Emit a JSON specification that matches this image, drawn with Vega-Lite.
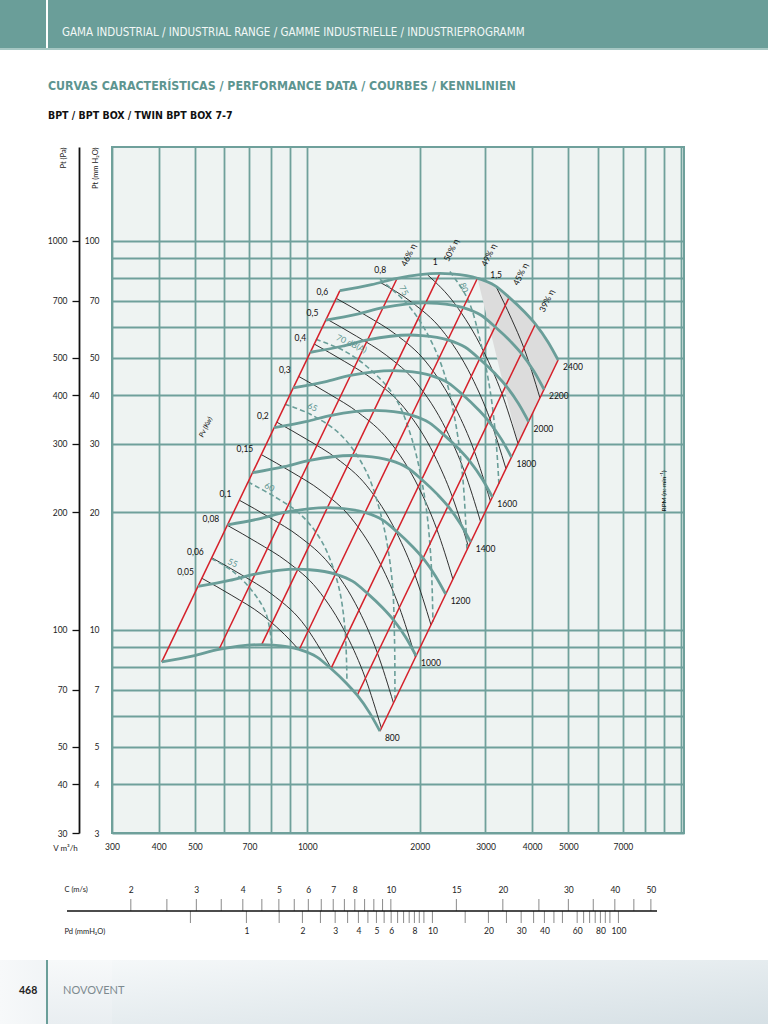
{
  "$schema": "https://vega.github.io/schema/vega-lite/v6.json",
  "background": "#ffffff",
  "padding": 0,
  "columns": 3,
  "spacing": 0,
  "bounds": "flush",
  "config": {
    "view": {"stroke": null},
    "font": "Lato",
    "axis": {"labelFont": "Lato", "titleFont": "Lato"},
    "text": {"font": "Lato"}
  },
  "datasets": {
    "rpm": [
      {"rpm":800,"q":407.6,"p":8.26},{"rpm":800,"q":495.3,"p":8.56},{"rpm":800,"q":580.1,"p":8.89},{"rpm":800,"q":754.8,"p":9.15},{"rpm":800,"q":810.8,"p":9.12},{"rpm":800,"q":951.6,"p":8.89},{"rpm":800,"q":1059.4,"p":8.51},{"rpm":800,"q":1157,"p":7.94},{"rpm":800,"q":1274.6,"p":7.27},{"rpm":800,"q":1360.6,"p":6.78},{"rpm":800,"q":1471.5,"p":6.09},{"rpm":800,"q":1564.8,"p":5.48},
      {"rpm":1000,"q":509.5,"p":12.91},{"rpm":1000,"q":619.1,"p":13.38},{"rpm":1000,"q":725.1,"p":13.89},{"rpm":1000,"q":943.5,"p":14.3},{"rpm":1000,"q":1013.5,"p":14.25},{"rpm":1000,"q":1189.5,"p":13.89},{"rpm":1000,"q":1324.3,"p":13.3},{"rpm":1000,"q":1446.3,"p":12.41},{"rpm":1000,"q":1593.3,"p":11.36},{"rpm":1000,"q":1700.8,"p":10.59},{"rpm":1000,"q":1839.4,"p":9.52},{"rpm":1000,"q":1956,"p":8.56},
      {"rpm":1200,"q":611.4,"p":18.59},{"rpm":1200,"q":743,"p":19.26},{"rpm":1200,"q":870.2,"p":20.0},{"rpm":1200,"q":1132.2,"p":20.59},{"rpm":1200,"q":1216.2,"p":20.52},{"rpm":1200,"q":1427.4,"p":20.0},{"rpm":1200,"q":1589.1,"p":19.15},{"rpm":1200,"q":1735.5,"p":17.87},{"rpm":1200,"q":1911.9,"p":16.36},{"rpm":1200,"q":2040.9,"p":15.26},{"rpm":1200,"q":2207.3,"p":13.7},{"rpm":1200,"q":2347.2,"p":12.33},
      {"rpm":1400,"q":713.3,"p":25.3},{"rpm":1400,"q":866.8,"p":26.22},{"rpm":1400,"q":1015.2,"p":27.23},{"rpm":1400,"q":1320.9,"p":28.02},{"rpm":1400,"q":1418.9,"p":27.93},{"rpm":1400,"q":1665.3,"p":27.23},{"rpm":1400,"q":1854,"p":26.06},{"rpm":1400,"q":2024.8,"p":24.32},{"rpm":1400,"q":2230.6,"p":22.26},{"rpm":1400,"q":2381,"p":20.76},{"rpm":1400,"q":2575.1,"p":18.65},{"rpm":1400,"q":2738.4,"p":16.78},
      {"rpm":1600,"q":815.2,"p":33.04},{"rpm":1600,"q":990.6,"p":34.24},{"rpm":1600,"q":1160.2,"p":35.56},{"rpm":1600,"q":1509.6,"p":36.6},{"rpm":1600,"q":1621.6,"p":36.48},{"rpm":1600,"q":1903.2,"p":35.56},{"rpm":1600,"q":2118.8,"p":34.04},{"rpm":1600,"q":2314,"p":31.76},{"rpm":1600,"q":2549.2,"p":29.08},{"rpm":1600,"q":2721.2,"p":27.12},{"rpm":1600,"q":2943,"p":24.36},{"rpm":1600,"q":3129.6,"p":21.92},
      {"rpm":1800,"q":917.1,"p":41.82},{"rpm":1800,"q":1114.4,"p":43.34},{"rpm":1800,"q":1305.2,"p":45.01},{"rpm":1800,"q":1698.3,"p":46.32},{"rpm":1800,"q":1824.3,"p":46.17},{"rpm":1800,"q":2141.1,"p":45.01},{"rpm":1800,"q":2383.7,"p":43.08},{"rpm":1800,"q":2603.3,"p":40.2},{"rpm":1800,"q":2867.9,"p":36.8},{"rpm":1800,"q":3061.4,"p":34.32},{"rpm":1800,"q":3310.9,"p":30.83},{"rpm":1800,"q":3520.8,"p":27.74},
      {"rpm":2000,"q":1019,"p":51.63},{"rpm":2000,"q":1238.3,"p":53.5},{"rpm":2000,"q":1450.3,"p":55.56},{"rpm":2000,"q":1887,"p":57.19},{"rpm":2000,"q":2027,"p":57.0},{"rpm":2000,"q":2379,"p":55.56},{"rpm":2000,"q":2648.5,"p":53.19},{"rpm":2000,"q":2892.5,"p":49.63},{"rpm":2000,"q":3186.5,"p":45.44},{"rpm":2000,"q":3401.5,"p":42.38},{"rpm":2000,"q":3678.8,"p":38.06},{"rpm":2000,"q":3912,"p":34.25},
      {"rpm":2200,"q":1120.9,"p":62.47},{"rpm":2200,"q":1362.1,"p":64.74},{"rpm":2200,"q":1595.3,"p":67.23},{"rpm":2200,"q":2075.7,"p":69.2},{"rpm":2200,"q":2229.7,"p":68.97},{"rpm":2200,"q":2616.9,"p":67.23},{"rpm":2200,"q":2913.4,"p":64.36},{"rpm":2200,"q":3181.8,"p":60.05},{"rpm":2200,"q":3505.2,"p":54.98},{"rpm":2200,"q":3741.7,"p":51.27},{"rpm":2200,"q":4046.6,"p":46.06},{"rpm":2200,"q":4303.2,"p":41.44},
      {"rpm":2400,"q":1222.8,"p":74.34},{"rpm":2400,"q":1485.9,"p":77.04},{"rpm":2400,"q":1740.3,"p":80.01},{"rpm":2400,"q":2264.4,"p":82.35},{"rpm":2400,"q":2432.4,"p":82.08},{"rpm":2400,"q":2854.8,"p":80.01},{"rpm":2400,"q":3178.2,"p":76.59},{"rpm":2400,"q":3471,"p":71.46},{"rpm":2400,"q":3823.8,"p":65.43},{"rpm":2400,"q":4081.8,"p":61.02},{"rpm":2400,"q":4414.5,"p":54.81},{"rpm":2400,"q":4694.4,"p":49.32}
    ],
    "red": [
      {"id":1,"q":407.6,"p":8.26},{"id":1,"q":1222.8,"p":74.34},
      {"id":2,"q":580.1,"p":8.89},{"id":2,"q":1740.3,"p":80.01},
      {"id":3,"q":754.8,"p":9.15},{"id":3,"q":2264.4,"p":82.35},
      {"id":4,"q":951.6,"p":8.89},{"id":4,"q":2854.8,"p":80.01},
      {"id":5,"q":1157,"p":7.94},{"id":5,"q":3471,"p":71.46},
      {"id":6,"q":1360.6,"p":6.78},{"id":6,"q":4081.8,"p":61.02},
      {"id":7,"q":1564.8,"p":5.48},{"id":7,"q":4694.4,"p":49.32}
    ],
    "kw": [
      {"kw":0.05,"q":522.1,"p":13.55},{"kw":0.05,"q":628.1,"p":12.24},{"kw":0.05,"q":755.3,"p":10.93},{"kw":0.05,"q":908.9,"p":9.294},{"kw":0.05,"q":947,"p":8.897},
      {"kw":0.06,"q":554.9,"p":15.3},{"kw":0.06,"q":667.5,"p":13.82},{"kw":0.06,"q":802.8,"p":12.34},{"kw":0.06,"q":965.8,"p":10.5},{"kw":0.06,"q":1165,"p":7.889},
      {"kw":0.08,"q":610.6,"p":18.54},{"kw":0.08,"q":734.5,"p":16.74},{"kw":0.08,"q":883.5,"p":14.95},{"kw":0.08,"q":1063,"p":12.72},{"kw":0.08,"q":1279,"p":9.614},{"kw":0.08,"q":1429,"p":7.523},{"kw":0.08,"q":1579,"p":5.582},
      {"kw":0.1,"q":657.7,"p":21.51},{"kw":0.1,"q":791.3,"p":19.43},{"kw":0.1,"q":951.7,"p":17.35},{"kw":0.1,"q":1145,"p":14.75},{"kw":0.1,"q":1378,"p":11.155},{"kw":0.1,"q":1539,"p":8.732},{"kw":0.1,"q":1701,"p":6.476},
      {"kw":0.15,"q":752.9,"p":28.18},{"kw":0.15,"q":905.7,"p":25.45},{"kw":0.15,"q":1089.5,"p":22.73},{"kw":0.15,"q":1311,"p":19.34},{"kw":0.15,"q":1577,"p":14.62},{"kw":0.15,"q":1762,"p":11.44},{"kw":0.15,"q":1948,"p":8.487},
      {"kw":0.2,"q":828.5,"p":34.14},{"kw":0.2,"q":996.8,"p":30.83},{"kw":0.2,"q":1199,"p":27.54},{"kw":0.2,"q":1443,"p":23.42},{"kw":0.2,"q":1736,"p":17.71},{"kw":0.2,"q":1939,"p":13.86},{"kw":0.2,"q":2144,"p":10.28},
      {"kw":0.3,"q":948.4,"p":44.75},{"kw":0.3,"q":1141,"p":40.41},{"kw":0.3,"q":1373,"p":36.08},{"kw":0.3,"q":1651,"p":30.69},{"kw":0.3,"q":1987,"p":23.21},{"kw":0.3,"q":2220,"p":18.16},{"kw":0.3,"q":2454,"p":13.48},
      {"kw":0.4,"q":1044,"p":54.2},{"kw":0.4,"q":1256,"p":48.95},{"kw":0.4,"q":1511,"p":43.72},{"kw":0.4,"q":1817,"p":37.18},{"kw":0.4,"q":2187,"p":28.11},{"kw":0.4,"q":2443,"p":22.0},{"kw":0.4,"q":2701,"p":16.33},
      {"kw":0.5,"q":1125,"p":62.9},{"kw":0.5,"q":1353,"p":56.8},{"kw":0.5,"q":1627,"p":50.73},{"kw":0.5,"q":1958,"p":43.14},{"kw":0.5,"q":2356,"p":32.62},{"kw":0.5,"q":2633,"p":25.53},{"kw":0.5,"q":2910,"p":18.95},
      {"kw":0.6,"q":1195,"p":71.03},{"kw":0.6,"q":1438,"p":64.14},{"kw":0.6,"q":1729,"p":57.3},{"kw":0.6,"q":2081,"p":48.72},{"kw":0.6,"q":2503,"p":36.84},{"kw":0.6,"q":2797,"p":28.84},{"kw":0.6,"q":3092,"p":21.39},
      {"kw":0.8,"q":1568,"p":78.04},{"kw":0.8,"q":1904,"p":69.39},{"kw":0.8,"q":2290,"p":59.02},{"kw":0.8,"q":2755,"p":44.63},{"kw":0.8,"q":3078,"p":34.93},{"kw":0.8,"q":3403,"p":25.92},
      {"kw":1,"q":2100,"p":81.6},{"kw":1,"q":2480,"p":68.9},{"kw":1,"q":2968,"p":51.79},{"kw":1,"q":3316,"p":40.53},{"kw":1,"q":3666,"p":30.07},
      {"kw":1.5,"q":3203,"p":76.1},{"kw":1.5,"q":3525,"p":62.77},{"kw":1.5,"q":3796,"p":53.12},{"kw":1.5,"q":4197,"p":39.4}
    ],
    "db": [
      {"db":55,"q":554.7,"p":15.21},{"db":55,"q":628.7,"p":14.17},{"db":55,"q":711.1,"p":12.59},{"db":55,"q":775.2,"p":10.99},{"db":55,"q":804.4,"p":9.15},
      {"db":60,"q":693.8,"p":23.96},{"db":60,"q":819.4,"p":21.93},{"db":60,"q":955.7,"p":19.84},{"db":60,"q":1094.7,"p":16.81},{"db":60,"q":1208,"p":13.12},{"db":60,"q":1261.2,"p":10.06},{"db":60,"q":1276.9,"p":7.36},
      {"db":65,"q":871.3,"p":37.97},{"db":65,"q":1016.5,"p":35.81},{"db":65,"q":1222.9,"p":31.81},{"db":65,"q":1426.8,"p":25.88},{"db":65,"q":1584.4,"p":19.26},{"db":65,"q":1685,"p":13.51},{"db":65,"q":1712,"p":9.48},{"db":65,"q":1716.5,"p":6.65},
      {"db":70,"q":1054.8,"p":55.73},{"db":70,"q":1261.2,"p":51.93},{"db":70,"q":1471.5,"p":46.7},{"db":70,"q":1716.5,"p":39.58},{"db":70,"q":1906,"p":30.89},{"db":70,"q":2065,"p":21.67},{"db":70,"q":2142.8,"p":15.21},{"db":70,"q":2169.3,"p":10.48},
      {"db":75,"q":1564.9,"p":79.43},{"db":75,"q":1825.5,"p":69.77},{"db":75,"q":2065,"p":59.12},{"db":75,"q":2307.1,"p":46.7},{"db":75,"q":2484,"p":34.77},{"db":75,"q":2609.7,"p":24.39},{"db":75,"q":2674.8,"p":16.13},
      {"db":80,"q":2408.7,"p":83.28},{"db":80,"q":2691.4,"p":70.6},{"db":80,"q":2898.2,"p":55.73},{"db":80,"q":3082.6,"p":41.5},{"db":80,"q":3198.7,"p":30.89},{"db":80,"q":3258.5,"p":23.68}
    ],
    "gray": [
      {"q":2854.8,"top":80.01,"bottom":80.01},{"q":3178.2,"top":76.59,"bottom":52.45},{"q":3471,"top":71.46,"bottom":37.07},{"q":3664,"top":68.16,"bottom":30.04},{"q":3823.8,"top":65.43,"bottom":32.72},{"q":4081.8,"top":61.02,"bottom":37.29},{"q":4414.5,"top":54.81,"bottom":43.61},{"q":4694.4,"top":49.32,"bottom":49.32}
    ],
    "rpmLabels": [
      {"t":"800","q":1564.8,"p":5.48},{"t":"1000","q":1956,"p":8.56},{"t":"1200","q":2347.2,"p":12.33},{"t":"1400","q":2738.4,"p":16.78},{"t":"1600","q":3129.6,"p":21.92},{"t":"1800","q":3520.8,"p":27.74},{"t":"2000","q":3912,"p":34.25},{"t":"2200","q":4303.2,"p":41.44},{"t":"2400","q":4694.4,"p":49.32}
    ],
    "kwLeftLabels": [
      {"t":"0,05","q":522.1,"p":13.55},{"t":"0,06","q":554.9,"p":15.3},{"t":"0,08","q":610.6,"p":18.54},{"t":"0,1","q":657.7,"p":21.51},{"t":"0,15","q":752.9,"p":28.18},{"t":"0,2","q":828.5,"p":34.14},{"t":"0,3","q":948.4,"p":44.75},{"t":"0,4","q":1044,"p":54.2},{"t":"0,5","q":1125,"p":62.9},{"t":"0,6","q":1195,"p":71.03}
    ],
    "kwTopLabels": [
      {"t":"0,8","q":1568,"p":78.04},{"t":"1","q":2200,"p":82.2},{"t":"1,5","q":3203,"p":76.1}
    ],
    "effLabels": [
      {"t":"46% η","q":1740.3,"p":80.01},{"t":"50% η","q":2264.4,"p":82.35},{"t":"49% η","q":2854.8,"p":80.01},{"t":"45% η","q":3471,"p":71.46},{"t":"39% η","q":4081.8,"p":61.02}
    ],
    "dbLabels": [
      {"t":"55","q":632,"p":14.85},{"t":"60","q":792,"p":23.26},{"t":"65","q":1032,"p":37.31},{"t":"70 dB(A)","q":1314,"p":54.34},{"t":"75","q":1814,"p":74.42},{"t":"80","q":2627,"p":75.75}
    ],
    "notes": [
      {"t":"Pv (Kw)","q":535.5,"p":33.15},{"t":"RPM (n: min⁻¹)","q":9007,"p":22.72}
    ],
    "cTicks": [
      {"c":2},{"c":2.5},{"c":3},{"c":3.5},{"c":4},{"c":4.5},{"c":5},{"c":5.5},{"c":6},{"c":6.5},{"c":7},{"c":7.5},{"c":8},{"c":8.5},{"c":9},{"c":9.5},{"c":10},{"c":15},{"c":20},{"c":25},{"c":30},{"c":35},{"c":40},{"c":45},{"c":50}
    ],
    "pdTicks": [
      {"pd":0.5},{"pd":1},{"pd":1.5},{"pd":2},{"pd":2.5},{"pd":3},{"pd":3.5},{"pd":4},{"pd":4.5},{"pd":5},{"pd":5.5},{"pd":6},{"pd":6.5},{"pd":7},{"pd":7.5},{"pd":8},{"pd":8.5},{"pd":9},{"pd":10},{"pd":15},{"pd":20},{"pd":25},{"pd":30},{"pd":35},{"pd":40},{"pd":45},{"pd":50},{"pd":60},{"pd":65},{"pd":70},{"pd":75},{"pd":80},{"pd":85},{"pd":90},{"pd":100}
    ],
    "cLine": [
      {"c0":1.347,"c1":51.93}
    ]
  },
  "concat": [
    {"width": 46, "height": 48, "view": {"fill": "#6a9e99", "stroke": null}, "data": {"values": [{}]}, "mark": {"type": "rect", "opacity": 0}},
    {"width": 64, "height": 48, "view": {"fill": "#6a9e99", "stroke": null}, "data": {"values": [{}]}, "mark": {"type": "rect", "opacity": 0}},
    {"width": 656, "height": 48, "view": {"fill": "#6a9e99", "stroke": null}, "data": {"values": [{}]}, "mark": {"type": "rect", "opacity": 0},
     "title": {"text": "GAMA INDUSTRIAL / INDUSTRIAL RANGE / GAMME INDUSTRIELLE / INDUSTRIEPROGRAMM", "orient": "bottom", "anchor": "start", "frame": "group", "offset": -12, "baseline": "alphabetic", "dx": -50, "color": "#f2f7f6", "font": "Liberation Sans Narrow, DejaVu Sans Condensed, sans-serif", "fontSize": 11.5, "fontWeight": "normal"}},
    {"width": 48, "height": 2, "view": {"fill": "#a6c7c3", "stroke": null}, "data": {"values": [{}]}, "mark": {"type": "rect", "opacity": 0}},
    {"width": 64, "height": 2, "view": {"fill": "#a6c7c3", "stroke": null}, "data": {"values": [{}]}, "mark": {"type": "rect", "opacity": 0}},
    {"width": 656, "height": 2, "view": {"fill": "#a6c7c3", "stroke": null}, "data": {"values": [{}]}, "mark": {"type": "rect", "opacity": 0}},
    {"width": 48, "height": 97, "data": {"values": [{}]}, "mark": {"type": "rect", "opacity": 0}},
    {"width": 64, "height": 97, "data": {"values": [{}]}, "mark": {"type": "rect", "opacity": 0}},
    {"width": 656, "height": 97, "data": {"values": [{}]}, "mark": {"type": "rect", "opacity": 0}},
    {"width": 48, "height": 686, "data": {"values": [{}]}, "mark": {"type": "rect", "opacity": 0}},
    {"width": 64, "height": 686, "data": {"values": [{}]}, "mark": {"type": "rect", "opacity": 0}},
    {
      "width": 572,
      "height": 686,
      "view": {"fill": "#eef3f2", "stroke": "#6fa09b", "strokeWidth": 2},
      "title": {"text": "CURVAS CARACTERÍSTICAS / PERFORMANCE DATA / COURBES / KENNLINIEN", "subtitle": "BPT / BPT BOX / TWIN BPT BOX 7-7", "anchor": "start", "frame": "group", "dx": -64, "offset": 26, "subtitlePadding": 18, "font": "Liberation Sans Narrow, DejaVu Sans Condensed, sans-serif", "fontSize": 12.3, "fontWeight": "bold", "color": "#5d9590", "subtitleFont": "Liberation Sans Narrow, DejaVu Sans Condensed, sans-serif", "subtitleFontSize": 10.5, "subtitleFontWeight": "bold", "subtitleColor": "#111111"},
      "layer": [
        {
          "data": {"name": "gray"},
          "mark": {"type": "area", "color": "#dcdcdc"},
          "encoding": {
            "x": {"field": "q", "type": "quantitative", "scale": {"type": "log", "domain": [300, 10200], "nice": false},
              "axis": {"values": [300,400,500,600,700,800,900,1000,2000,3000,4000,5000,6000,7000,8000,9000,10000],
                "labelExpr": "indexof([300,400,500,700,1000,2000,3000,4000,5000,7000], datum.value) >= 0 ? datum.label : ''",
                "format": "d", "grid": true, "gridColor": "#6fa09b", "gridWidth": 1.8, "ticks": false, "domain": false,
                "labelPadding": 9, "labelFontSize": 8.5, "labelColor": "#222222", "labelOverlap": false, "labelFlush": false, "labelBound": false,
                "title": "V m³/h", "titleX": -47, "titleY": 15, "titleAlign": "center", "titleBaseline": "middle", "titleFontSize": 8, "titleFontWeight": "normal", "titleColor": "#222222"}},
            "y": {"field": "top", "type": "quantitative", "scale": {"type": "log", "domain": [3, 174], "nice": false},
              "axis": {"values": [3,4,5,6,7,8,9,10,20,30,40,50,60,70,80,90,100],
                "labelExpr": "indexof([3,4,5,7,10,20,30,40,50,70,100], datum.value) >= 0 ? datum.label : ''",
                "format": "d", "grid": true, "gridColor": "#6fa09b", "gridWidth": 1.8, "ticks": false, "domain": false,
                "labelPadding": 13, "labelFontSize": 8.5, "labelColor": "#222222", "labelOverlap": false, "labelBound": false,
                "title": "Pt (mm H₂O)", "titleX": -17, "titleY": 0, "titleAngle": 270, "titleAlign": "right", "titleBaseline": "middle", "titleFontSize": 7.5, "titleFontWeight": "normal", "titleColor": "#222222"}},
            "y2": {"field": "bottom"}
          }
        },
        {
          "data": {"values": [{}]},
          "mark": {"type": "point", "opacity": 0},
          "encoding": {
            "y": {"datum": 10, "type": "quantitative",
              "axis": {"orient": "left", "offset": 33, "values": [3,4,5,7,10,20,30,40,50,70,100], "labelExpr": "format(datum.value * 10, 'd')",
                "grid": false, "ticks": true, "tickSize": 7, "tickColor": "#111111", "tickWidth": 1.3, "domain": true, "domainColor": "#111111", "domainWidth": 1.8,
                "labelPadding": 5, "labelFontSize": 8.5, "labelColor": "#222222", "labelOverlap": false, "labelBound": false,
                "title": "Pt (Pa)", "titleX": -16, "titleY": 0, "titleAngle": 270, "titleAlign": "right", "titleBaseline": "middle", "titleFontSize": 7.5, "titleFontWeight": "normal", "titleColor": "#222222"}}
          }
        },
        {
          "data": {"name": "kw"},
          "mark": {"type": "line", "color": "#262626", "strokeWidth": 0.95, "interpolate": "monotone"},
          "encoding": {
            "x": {"field": "q", "type": "quantitative"},
            "y": {"field": "p", "type": "quantitative", "axis": null},
            "detail": {"field": "kw", "type": "nominal"}
          }
        },
        {
          "data": {"name": "db"},
          "mark": {"type": "line", "color": "#6a9e99", "strokeWidth": 1.6, "strokeDash": [5, 3], "interpolate": "catmull-rom"},
          "encoding": {
            "x": {"field": "q", "type": "quantitative"},
            "y": {"field": "p", "type": "quantitative", "axis": null},
            "detail": {"field": "db", "type": "nominal"},
            "order": {"field": "p", "sort": "descending"}
          }
        },
        {
          "data": {"name": "red"},
          "mark": {"type": "line", "color": "#d5202a", "strokeWidth": 1.5},
          "encoding": {
            "x": {"field": "q", "type": "quantitative"},
            "y": {"field": "p", "type": "quantitative", "axis": null},
            "detail": {"field": "id", "type": "nominal"}
          }
        },
        {
          "data": {"name": "rpm"},
          "mark": {"type": "line", "color": "#6a9e99", "strokeWidth": 2.8, "interpolate": "monotone"},
          "encoding": {
            "x": {"field": "q", "type": "quantitative"},
            "y": {"field": "p", "type": "quantitative", "axis": null},
            "detail": {"field": "rpm", "type": "nominal"}
          }
        },
        {
          "data": {"name": "rpmLabels"},
          "mark": {"type": "text", "align": "left", "baseline": "middle", "dx": 5, "dy": 7, "fontSize": 8.5, "color": "#111111"},
          "encoding": {
            "x": {"field": "q", "type": "quantitative"},
            "y": {"field": "p", "type": "quantitative", "axis": null},
            "text": {"field": "t"}
          }
        },
        {
          "data": {"name": "kwLeftLabels"},
          "mark": {"type": "text", "align": "right", "baseline": "middle", "dx": -8, "dy": -6, "fontSize": 8.5, "color": "#111111"},
          "encoding": {
            "x": {"field": "q", "type": "quantitative"},
            "y": {"field": "p", "type": "quantitative", "axis": null},
            "text": {"field": "t"}
          }
        },
        {
          "data": {"name": "kwTopLabels"},
          "mark": {"type": "text", "align": "center", "baseline": "bottom", "dy": -7, "fontSize": 8.5, "color": "#111111"},
          "encoding": {
            "x": {"field": "q", "type": "quantitative"},
            "y": {"field": "p", "type": "quantitative", "axis": null},
            "text": {"field": "t"}
          }
        },
        {
          "data": {"name": "effLabels"},
          "mark": {"type": "text", "align": "left", "baseline": "middle", "angle": 296, "dx": 14, "fontSize": 8.5, "color": "#111111"},
          "encoding": {
            "x": {"field": "q", "type": "quantitative"},
            "y": {"field": "p", "type": "quantitative", "axis": null},
            "text": {"field": "t"}
          }
        },
        {
          "data": {"name": "dbLabels"},
          "transform": [{"filter": {"field": "t", "oneOf": ["55", "60", "65", "70 dB(A)"]}}],
          "mark": {"type": "text", "align": "center", "baseline": "middle", "angle": 25, "fontSize": 8.5, "color": "#5d9590"},
          "encoding": {
            "x": {"field": "q", "type": "quantitative"},
            "y": {"field": "p", "type": "quantitative", "axis": null},
            "text": {"field": "t"}
          }
        },
        {
          "data": {"name": "dbLabels"},
          "transform": [{"filter": {"field": "t", "equal": "75"}}],
          "mark": {"type": "text", "align": "center", "baseline": "middle", "angle": 62, "fontSize": 8.5, "color": "#5d9590"},
          "encoding": {
            "x": {"field": "q", "type": "quantitative"},
            "y": {"field": "p", "type": "quantitative", "axis": null},
            "text": {"field": "t"}
          }
        },
        {
          "data": {"name": "dbLabels"},
          "transform": [{"filter": {"field": "t", "equal": "80"}}],
          "mark": {"type": "text", "align": "center", "baseline": "middle", "angle": 70, "fontSize": 8.5, "color": "#5d9590"},
          "encoding": {
            "x": {"field": "q", "type": "quantitative"},
            "y": {"field": "p", "type": "quantitative", "axis": null},
            "text": {"field": "t"}
          }
        },
        {
          "data": {"name": "notes"},
          "transform": [{"filter": {"field": "t", "equal": "Pv (Kw)"}}],
          "mark": {"type": "text", "align": "center", "baseline": "middle", "angle": 296, "fontSize": 7, "fontStyle": "italic", "color": "#111111"},
          "encoding": {
            "x": {"field": "q", "type": "quantitative"},
            "y": {"field": "p", "type": "quantitative", "axis": null},
            "text": {"field": "t"}
          }
        },
        {
          "data": {"name": "notes"},
          "transform": [{"filter": {"field": "t", "equal": "RPM (n: min⁻¹)"}}],
          "mark": {"type": "text", "align": "center", "baseline": "middle", "angle": 270, "fontSize": 6.5, "color": "#111111"},
          "encoding": {
            "x": {"field": "q", "type": "quantitative"},
            "y": {"field": "p", "type": "quantitative", "axis": null},
            "text": {"field": "t"}
          }
        }
      ],
      "resolve": {"axis": {"y": "independent"}}
    },
    {"width": 48, "height": 66, "data": {"values": [{}]}, "mark": {"type": "rect", "opacity": 0}},
    {"width": 64, "height": 66, "data": {"values": [{}]}, "mark": {"type": "rect", "opacity": 0}},
    {"width": 572, "height": 66, "data": {"values": [{}]}, "mark": {"type": "rect", "opacity": 0}},
    {"width": 48, "height": 24, "data": {"values": [{}]}, "mark": {"type": "rect", "opacity": 0}},
    {"width": 64, "height": 24, "data": {"values": [{}]}, "mark": {"type": "rect", "opacity": 0}},
    {
      "width": 545,
      "height": 24,
      "layer": [
        {
          "data": {"name": "cTicks"},
          "mark": {"type": "rule", "color": "#8a8a8a", "strokeWidth": 1},
          "encoding": {
            "x": {"field": "c", "type": "quantitative", "scale": {"type": "log", "domain": [1.78, 51.93], "nice": false},
              "axis": {"orient": "top", "values": [2,3,4,5,6,7,8,10,15,20,30,40,50], "format": "d", "ticks": false, "domain": false, "grid": false,
                "labelPadding": 5, "labelFontSize": 8.5, "labelColor": "#222222", "labelFlush": false, "labelOverlap": false, "labelBound": false,
                "title": "C (m/s)", "titleX": -48, "titleY": -10, "titleAlign": "left", "titleBaseline": "middle", "titleFontSize": 7.5, "titleFontWeight": "normal", "titleColor": "#222222"}},
            "y": {"datum": 1, "type": "quantitative", "scale": {"domain": [-1, 1]}, "axis": null},
            "y2": {"datum": 0}
          }
        },
        {
          "data": {"name": "pdTicks"},
          "mark": {"type": "rule", "color": "#8a8a8a", "strokeWidth": 1},
          "encoding": {
            "x": {"field": "pd", "type": "quantitative", "scale": {"type": "log", "domain": [0.1894, 161.2], "nice": false},
              "axis": {"orient": "bottom", "values": [1,2,3,4,5,6,8,10,20,30,40,60,80,100], "format": "d", "ticks": false, "domain": false, "grid": false,
                "labelPadding": 3, "labelFontSize": 8.5, "labelColor": "#222222", "labelFlush": false, "labelOverlap": false, "labelBound": false,
                "title": "Pd (mmH₂O)", "titleX": -48, "titleY": 8, "titleAlign": "left", "titleBaseline": "middle", "titleFontSize": 7.5, "titleFontWeight": "normal", "titleColor": "#222222"}},
            "y": {"datum": 0, "type": "quantitative", "axis": null},
            "y2": {"datum": -1}
          }
        },
        {
          "data": {"name": "cLine"},
          "mark": {"type": "rule", "color": "#111111", "strokeWidth": 1.5},
          "encoding": {
            "x": {"field": "c0", "type": "quantitative", "scale": {"type": "log", "domain": [1.78, 51.93], "nice": false}, "axis": null},
            "x2": {"field": "c1"},
            "y": {"datum": 0, "type": "quantitative", "axis": null}
          }
        }
      ],
      "resolve": {"scale": {"x": "independent"}, "axis": {"x": "independent"}}
    },
    {"width": 48, "height": 37, "data": {"values": [{}]}, "mark": {"type": "rect", "opacity": 0}},
    {"width": 64, "height": 37, "data": {"values": [{}]}, "mark": {"type": "rect", "opacity": 0}},
    {"width": 545, "height": 37, "data": {"values": [{}]}, "mark": {"type": "rect", "opacity": 0}},
    {"width": 48, "height": 64, "data": {"values": [{}]},
     "mark": {"type": "rect", "color": {"gradient": "linear", "x1": 0, "y1": 0, "x2": 1, "y2": 0, "stops": [{"offset": 0, "color": "#f7f9fa"}, {"offset": 0.955, "color": "#f1f4f6"}, {"offset": 0.958, "color": "#6a9e99"}, {"offset": 1, "color": "#6a9e99"}]}},
     "title": {"text": "468", "orient": "bottom", "anchor": "start", "frame": "group", "offset": -30, "baseline": "alphabetic", "dx": 19, "fontSize": 10.5, "fontWeight": "bold", "color": "#222222", "font": "Lato"}},
    {"width": 64, "height": 64, "data": {"values": [{}]},
     "mark": {"type": "rect", "color": {"gradient": "linear", "x1": 0, "y1": 0, "x2": 0, "y2": 1, "stops": [{"offset": 0, "color": "#f7f9fa"}, {"offset": 1, "color": "#e9eef1"}]}}},
    {"width": 656, "height": 64, "data": {"values": [{}]},
     "mark": {"type": "rect", "color": {"gradient": "linear", "x1": 0, "y1": 0, "x2": 1, "y2": 1, "stops": [{"offset": 0, "color": "#f5f8f9"}, {"offset": 1, "color": "#d6e0e5"}]}},
     "title": {"text": "NOVOVENT", "orient": "bottom", "anchor": "start", "frame": "group", "offset": -30, "baseline": "alphabetic", "dx": -49, "fontSize": 11, "fontWeight": "normal", "color": "#7d8a8f", "font": "Lato"}}
  ]
}
